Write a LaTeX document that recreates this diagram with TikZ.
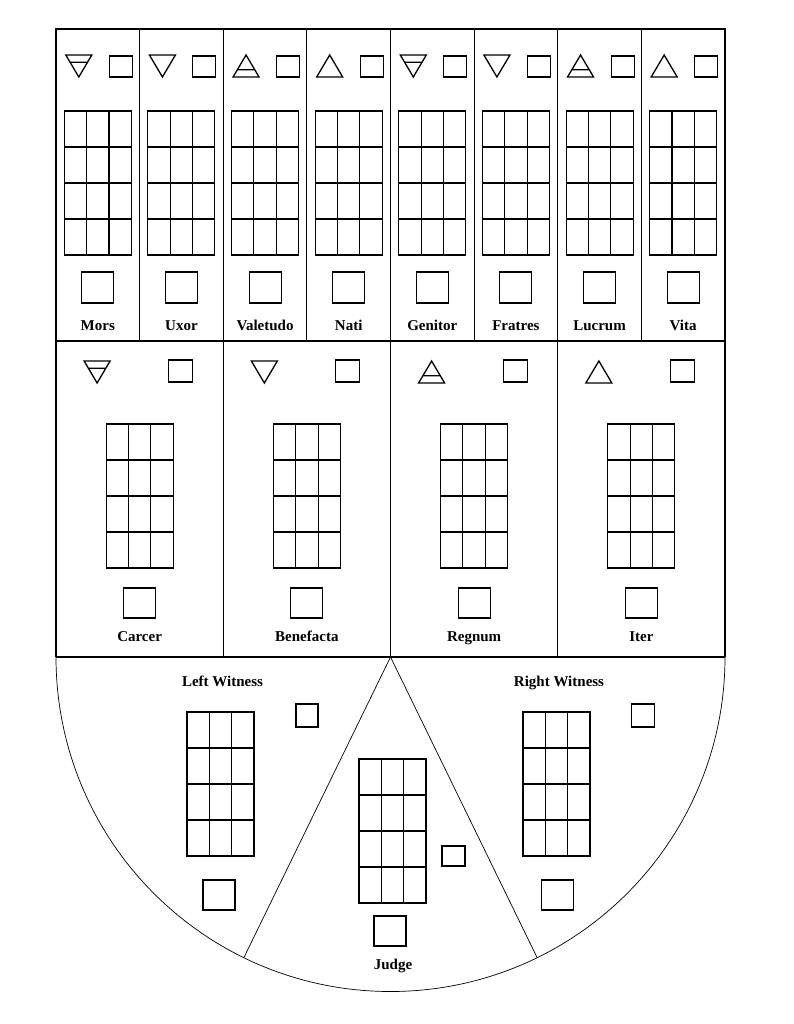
\documentclass[tikz,border=0pt]{standalone}
\usepackage{fontspec}
\setmainfont{Liberation Serif}
\usetikzlibrary{positioning}

\tikzset{
  wall/.style={line width=1.1pt},
  thinwall/.style={line width=0.7pt},
  sqbox/.style args={#1 by #2}{draw, line width=1.1pt, inner sep=0pt, minimum width=#1pt, minimum height=#2pt},
  lbl/.style={anchor=base, inner sep=0pt, font=\fontsize{15}{18}\selectfont\bfseries},
  pics/tablet/.style={code={
    \draw[wall] (-33.5,0) rectangle (33.5,144);
    \draw[wall] (-11.2,0) -- (-11.2,144) (11.2,0) -- (11.2,144);
    \draw[wall] (-33.5,36) -- (33.5,36) (-33.5,72) -- (33.5,72) (-33.5,108) -- (33.5,108);
  }},
  pics/water/.style={code={\draw[line width=1.3pt] (-13,-11) -- (13,-11) -- (0,11) -- cycle;}},
  pics/earth/.style={code={\draw[line width=1.3pt] (-13,-11) -- (13,-11) -- (0,11) -- cycle (-8.7,-3.7) -- (8.7,-3.7);}},
  pics/fire/.style={code={\draw[line width=1.3pt] (-13,11) -- (13,11) -- (0,-11) -- cycle;}},
  pics/air/.style={code={\draw[line width=1.3pt] (-13,11) -- (13,11) -- (0,-11) -- cycle (-8.7,3.7) -- (8.7,3.7);}},
}

\begin{document}
\begin{tikzpicture}[x=1pt, y=-1pt]
  \useasboundingbox (0,0) rectangle (793,1024);

  % outline of the shield
  \draw[wall] (56,657) -- (56,29) -- (725,29) -- (725,657);
  \draw[wall] (56,341) -- (725,341);
  \draw[wall] (56,657) -- (725,657);
  \draw[thinwall] (725,657) arc[start angle=0, end angle=180, radius=334.5];
  \coordinate (apex) at (390.5,657);
  \draw[thinwall] (apex) -- ++(116:334.5);
  \draw[thinwall] (apex) -- ++(64:334.5);

  % the eight houses of the top row
  \foreach \i in {1,...,7}
    \draw[wall] (56+83.625*\i,29) -- (56+83.625*\i,341);
  \foreach \name/\elem [count=\i from 0] in {Mors/earth, Uxor/water, Valetudo/air, Nati/fire,
      Genitor/earth, Fratres/water, Lucrum/air, Vita/fire} {
    \pgfmathsetmacro\cx{97.8+83.625*\i}
    \pic (\name-e) at (\cx-19,66) {\elem};
    \node[sqbox=23 by 21] (\name-s) at (\cx+23,66.5) {};
    \pic (\name-t) at (\cx,111) {tablet};
    \node[sqbox=32 by 31] (\name-b) at (\cx,287.5) {};
    \node[lbl] (\name) at (\cx,330.5) {\name};
  }

  % the four houses of the middle row
  \foreach \i in {1,2,3}
    \draw[wall] (56+167.25*\i,341) -- (56+167.25*\i,657);
  \foreach \name/\elem [count=\i from 0] in {Carcer/earth, Benefacta/water, Regnum/air, Iter/fire} {
    \pgfmathsetmacro\cx{139.6+167.25*\i}
    \pic (\name-e) at (\cx-42.5,372) {\elem};
    \node[sqbox=24 by 22] (\name-s) at (\cx+41,371) {};
    \pic (\name-t) at (\cx,424) {tablet};
    \node[sqbox=32 by 30] (\name-b) at (\cx,603) {};
    \node[lbl] (\name) at (\cx,641) {\name};
  }

  % witnesses and judge
  \node[lbl] (lw) at (222.5,686) {Left Witness};
  \pic (lw-t) at (220.5,712) {tablet};
  \node[sqbox=22 by 23] (lw-s) at (307,715.5) {};
  \node[sqbox=32 by 30] (lw-b) at (219,895) {};

  \node[lbl] (rw) at (559,686) {Right Witness};
  \pic (rw-t) at (556.5,712) {tablet};
  \node[sqbox=23 by 23] (rw-s) at (643,715.5) {};
  \node[sqbox=32 by 30] (rw-b) at (557.5,895) {};

  \pic (judge-t) at (392.5,759) {tablet};
  \node[sqbox=23 by 20] (judge-s) at (453.5,856) {};
  \node[sqbox=32 by 30] (judge-b) at (390,931) {};
  \node[lbl] (judge) at (393,969) {Judge};
\end{tikzpicture}
\end{document}
